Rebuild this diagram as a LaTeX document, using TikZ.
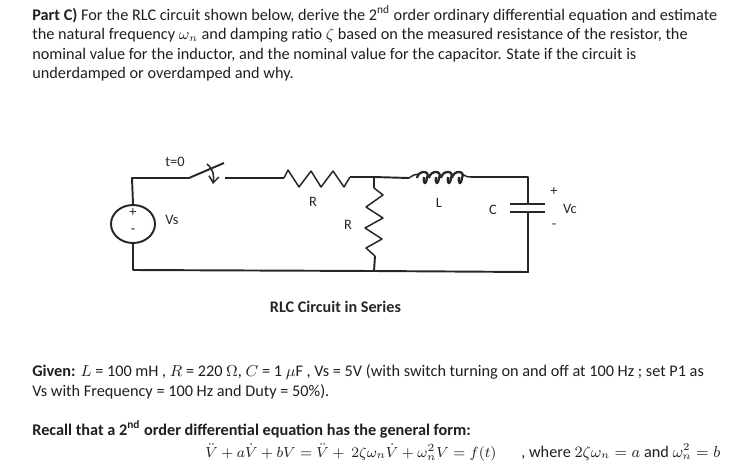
\documentclass[tikz,border=0pt]{standalone}
\usepackage{fontspec}
\setmainfont{Carlito}
\usepackage{amsmath}
\usetikzlibrary{calc,positioning,shapes.geometric,arrows.meta}
\tikzset{
	body/.style={anchor=base west,inner sep=0pt,text=black!88,font=\fontsize{9.25}{11}\selectfont},
	tag/.style={inner sep=0pt,text=black!85,font=\fontsize{8.2}{10}\selectfont},
	wire/.style={line width=1.1pt,black!85,line join=round},
	thin wire/.style={line width=.85pt,black!85,line join=round}
}
\begin{document}
\begin{tikzpicture}[x=.2mm,y=-.2mm]
	\useasboundingbox (0,0) rectangle (743,471);
	% question text
	\node[body] (line1) at (32,20) {\textbf{Part C)} For the RLC circuit shown below, derive the 2\textsuperscript{nd} order ordinary differential equation and estimate};
	\node[body] (line2) at (32,39.5) {the natural frequency $\omega_n$ and damping ratio $\zeta$ based on the measured resistance of the resistor, the};
	\node[body] (line3) at (32,59) {nominal value for the inductor, and the nominal value for the capacitor. State if the circuit is};
	\node[body] (line4) at (32,78.5) {underdamped or overdamped and why.};
	% corners and terminals
	\coordinate (tl) at (132,178);
	\coordinate (bl) at (133,270);
	\coordinate (swa) at (189,178);
	\coordinate (swb) at (224,163);
	\coordinate (swc) at (225,178);
	\coordinate (rain) at (284,178);
	\coordinate (raout) at (350,177);
	\coordinate (jt) at (374,177);
	\coordinate (jb) at (374,271);
	\coordinate (lin) at (409,178);
	\coordinate (lout) at (471,177);
	\coordinate (tr) at (528,177);
	\coordinate (br) at (528,272);
	\coordinate (cap) at (528,204);
	\coordinate (can) at (528,212);
	\coordinate (rbin) at (374,188);
	\coordinate (rbout) at (375,256);
	% source
	\node[ellipse,draw,line width=1.1pt,black!85,minimum width=8.8mm,minimum height=7.6mm,inner sep=0pt] (vs) at (133,224) {};
	\node[tag] (vsp) at (133,213) {+};
	\node[tag] (vsn) at (133,231) {-};
	\draw[wire] (vs.north) -- (tl) -- (swa) -- (swb);
	\draw[wire] (vs.south) -- (bl) -- (jb) -- (br) -- (can);
	\draw[wire] (swc) -- (rain);
	\draw[thin wire,-{Straight Barb[length=1.3mm,width=2mm]}] (207,164) .. controls (214,170) and (214,176) .. (213,184);
	% resistors
	\draw[thin wire] (rain) -- (288,170) -- (299,187) -- (311,171) -- (321,187) -- (333,171) -- (344,187) -- (raout);
	\draw[wire] (raout) -- (jt) -- (lin);
	\draw[wire] (jt) -- (rbin);
	\draw[thin wire] (rbin) -- (383,195) -- (366,207) -- (383,218) -- (365,228) -- (382,239) -- (366,248) -- (rbout);
	\draw[wire] (rbout) -- (jb);
	% inductor
	\draw[thin wire] (lin) .. controls (413,175) and (416,174) .. (419,174);
	\foreach \x in {417,429,441,452}
		\draw[thin wire,line width=1.3pt] (\x,178) .. controls (\x+1,170) and (\x+14,170) .. (\x+10,178) .. controls (\x+9,185) and (\x+6,185) .. (\x+7,177);
	\draw[thin wire] (462,174) .. controls (466,176) and (468,178) .. (lout);
	% capacitor
	\draw[wire] (lout) -- (tr) -- (cap);
	\draw[wire] (510,204) -- (545,204);
	\draw[wire] (510,212) -- (545,212);
	% labels
	\node[tag] (tlabel) at (175,162) {t=0};
	\node[tag] (vslabel) at (172,220) {Vs};
	\node[tag] (ralabel) at (313,202) {R};
	\node[tag] (rblabel) at (348,225) {R};
	\node[tag] (llabel) at (439,203) {L};
	\node[tag] (clabel) at (493,210) {C};
	\node[tag] (vcp) at (554,192) {+};
	\node[tag] (vclabel) at (570,209) {Vc};
	\node[tag] (vcn) at (554,226) {-};
	\node[tag,font=\fontsize{9.2}{11}\selectfont\bfseries] (title) at (335.5,306.5) {RLC Circuit in Series};
	% given values
	\node[body] (given1) at (32,376) {\textbf{Given:} $L$ = 100 mH , $R$ = 220 $\Omega$, $C$ = 1 $\mu$F , Vs = 5V (with switch turning on and off at 100 Hz ; set P1 as};
	\node[body] (given2) at (32,396) {Vs with Frequency = 100 Hz and Duty = 50\%).};
	\node[body] (recall) at (32,435) {\textbf{Recall that a 2\textsuperscript{nd} order differential equation has the general form:}};
	\node[body,font=\fontsize{8.35}{10}\selectfont,scale=1.04,transform shape] (eqn) at (205,457) {$\ddot V + a\dot V + bV = \ddot V +\ 2\zeta\omega_n\dot V + \omega_n^2 V = f(t)$};
	\node[body] (where) at (521,457) {, where $2\zeta\omega_n = a$ and $\omega_n^2 = b$};
\end{tikzpicture}
\end{document}
